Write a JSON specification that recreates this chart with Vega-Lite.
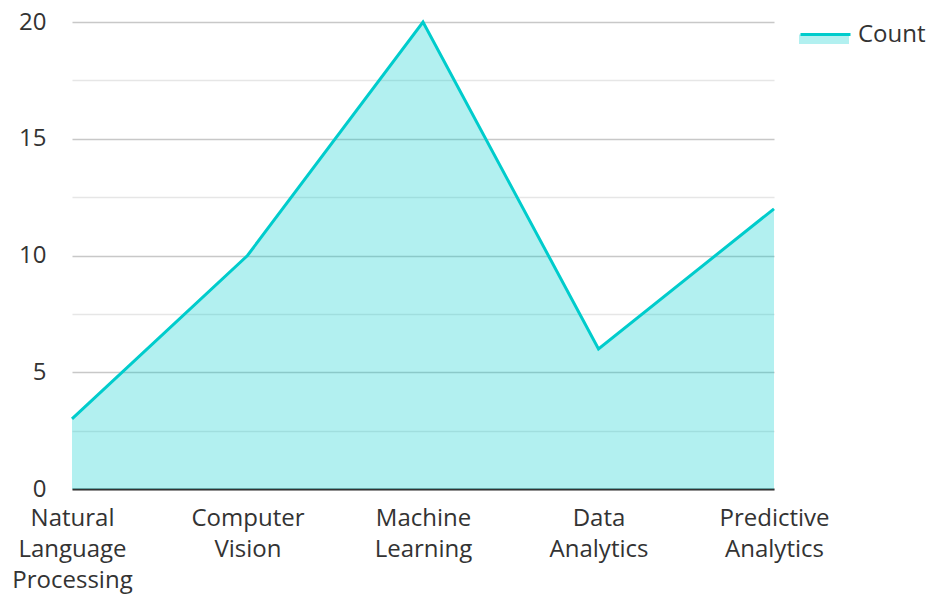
{
  "$schema": "https://vega.github.io/schema/vega-lite/v6.json",
  "width": 702,
  "height": 467,
  "autosize": "none",
  "padding": {"left": 72, "top": 22, "right": 158, "bottom": 105},
  "background": "white",
  "config": {
    "view": {"stroke": null},
    "font": "Open Sans",
    "axis": {"labelFont": "Open Sans", "labelFontSize": 24, "labelColor": "#333333"},
    "legend": {"labelFont": "Open Sans", "labelFontSize": 24, "labelColor": "#333333"}
  },
  "data": {
    "values": [
      {"category": "Natural Language Processing", "count": 3},
      {"category": "Computer Vision", "count": 10},
      {"category": "Machine Learning", "count": 20},
      {"category": "Data Analytics", "count": 6},
      {"category": "Predictive Analytics", "count": 12}
    ]
  },
  "encoding": {
    "x": {
      "field": "category",
      "type": "nominal",
      "sort": null,
      "scale": {"type": "point", "padding": 0},
      "axis": {
        "title": null,
        "labelAngle": 0,
        "labelExpr": "split(datum.label, ' ')",
        "labelLineHeight": 31,
        "labelBaseline": "top",
        "labelPadding": 17,
        "labelLimit": 0,
        "ticks": false,
        "grid": false,
        "domainColor": "#333333",
        "domainWidth": 2
      }
    },
    "y": {
      "field": "count",
      "type": "quantitative",
      "scale": {"domain": [0, 20], "nice": false},
      "axis": {
        "title": null,
        "values": [0, 2.5, 5, 7.5, 10, 12.5, 15, 17.5, 20],
        "labelExpr": "datum.value % 5 === 0 ? datum.label : ''",
        "ticks": false,
        "domain": false,
        "labelPadding": 26,
        "gridColor": {"condition": {"test": "datum.value % 5 === 0", "value": "#c8c8c8"}, "value": "#e6e6e6"},
        "gridWidth": 1.5
      }
    }
  },
  "resolve": {"scale": {"fill": "independent", "stroke": "independent"}, "legend": {"fill": "independent", "stroke": "independent"}},
  "layer": [
    {
      "mark": {"type": "area", "opacity": 0.3},
      "encoding": {
        "fill": {
          "datum": "Count",
          "type": "nominal",
          "scale": {"range": ["#00cccc"]},
          "legend": {
            "title": null,
            "orient": "none",
            "legendX": 727,
            "legendY": -14,
            "symbolType": "M-1,0.06L1,0.06L1,0.44L-1,0.44Z",
            "symbolSize": 2500,
            "symbolOpacity": 0.3,
            "symbolStrokeWidth": 0,
            "labelExpr": "''",
            "padding": 0
          }
        }
      }
    },
    {
      "mark": {"type": "line", "strokeWidth": 3},
      "encoding": {
        "stroke": {
          "datum": "Count",
          "type": "nominal",
          "scale": {"range": ["#00cccc"]},
          "legend": {
            "title": null,
            "orient": "none",
            "legendX": 727,
            "legendY": -14,
            "symbolType": "stroke",
            "symbolSize": 2500,
            "symbolStrokeWidth": 3,
            "labelOffset": 6,
            "padding": 0
          }
        }
      }
    }
  ]
}
